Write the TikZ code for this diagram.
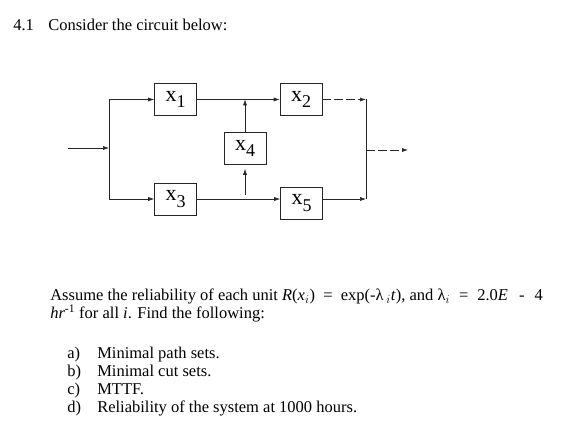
\documentclass[tikz,border=0pt]{standalone}
\usepackage{fontspec}
\setmainfont{Liberation Serif}
\usepackage{tikz}
\usetikzlibrary{arrows.meta}

\newcommand{\unitname}[1]{x\raisebox{-0.3em}{\fontsize{18}{18}\selectfont #1}}

\begin{document}
\begin{tikzpicture}[x=1pt, y=-1pt,
    line width=0.55pt, draw=black!85, >={Latex[length=6pt,width=4pt]},
    unitbox/.style={draw, minimum width=42pt, minimum height=32pt, inner sep=0pt,
        font=\fontsize{22}{22}\selectfont},
    txt/.style={anchor=base west, inner sep=0pt, font=\fontsize{16.5}{19}\selectfont}]
    \useasboundingbox (0,0) rectangle (581,443);

    % Units of the circuit
    \node[unitbox] (x1) at (175.5,99.5) {\unitname{1}};
    \node[unitbox] (x2) at (301,99.5) {\unitname{2}};
    \node[unitbox] (x4) at (245,148.5) {\unitname{4}};
    \node[unitbox] (x3) at (175.5,199) {\unitname{3}};
    \node[unitbox] (x5) at (301.5,203) {\unitname{5}};

    % Input side
    \coordinate (in) at (68,148);
    \coordinate (split) at (109,148);
    \draw[->] (in) -- (split);
    \draw (split |- x1) -- (split |- x3);
    \draw[->] (split |- x1) -- (x1.west);
    \draw[->] (split |- x3) -- (x3.west);

    % Bridge through x4
    \draw[->] (x1.east) -- (x2.west);
    \draw[->] (x3.east) -- (x5.west |- x3.east);
    \draw[->] (x4.north) -- (x4 |- x1);
    \draw[->, shorten <=4pt, shorten >=4pt] (x4 |- x3) -- (x4.south);

    % Output side
    \coordinate (merge) at (366,150);
    \coordinate (out) at (408,150);
    \draw[->, dash pattern=on 9pt off 3pt] (x2.east) -- (merge |- x2);
    \draw[->] (x5.east |- x3.east) -- (merge |- x3);
    \draw (merge |- x2) -- (merge |- x3);
    \draw[->, dash pattern=on 9pt off 3pt] (merge) -- (out);

    % Problem text
    \node[txt] (num) at (13,31) {4.1};
    \node[txt] (head) at (48,31) {Consider the circuit below:};
    \node[txt] (line1) at (50,301) {Assume the reliability of each unit \textit{R}(\textit{x}$_i$) \ = \ exp(-λ\,$_{i}$\textit{t}), and λ$_i$\hspace{9pt}=\hspace{9pt}2.0\textit{E}\hspace{11pt}-\hspace{10pt}4};
    \node[txt] (line2) at (50,319) {\textit{hr}\textsuperscript{-1} for all \textit{i}. Find the following:};
    \node[txt] (qa) at (67,359) {a)};
    \node[txt] (ta) at (97,359) {Minimal path sets.};
    \node[txt] (qb) at (67,377) {b)};
    \node[txt] (tb) at (97,377) {Minimal cut sets.};
    \node[txt] (qc) at (67,395) {c)};
    \node[txt] (tc) at (97,395) {MTTF.};
    \node[txt] (qd) at (67,413) {d)};
    \node[txt] (td) at (97,413) {Reliability of the system at 1000 hours.};
\end{tikzpicture}
\end{document}
